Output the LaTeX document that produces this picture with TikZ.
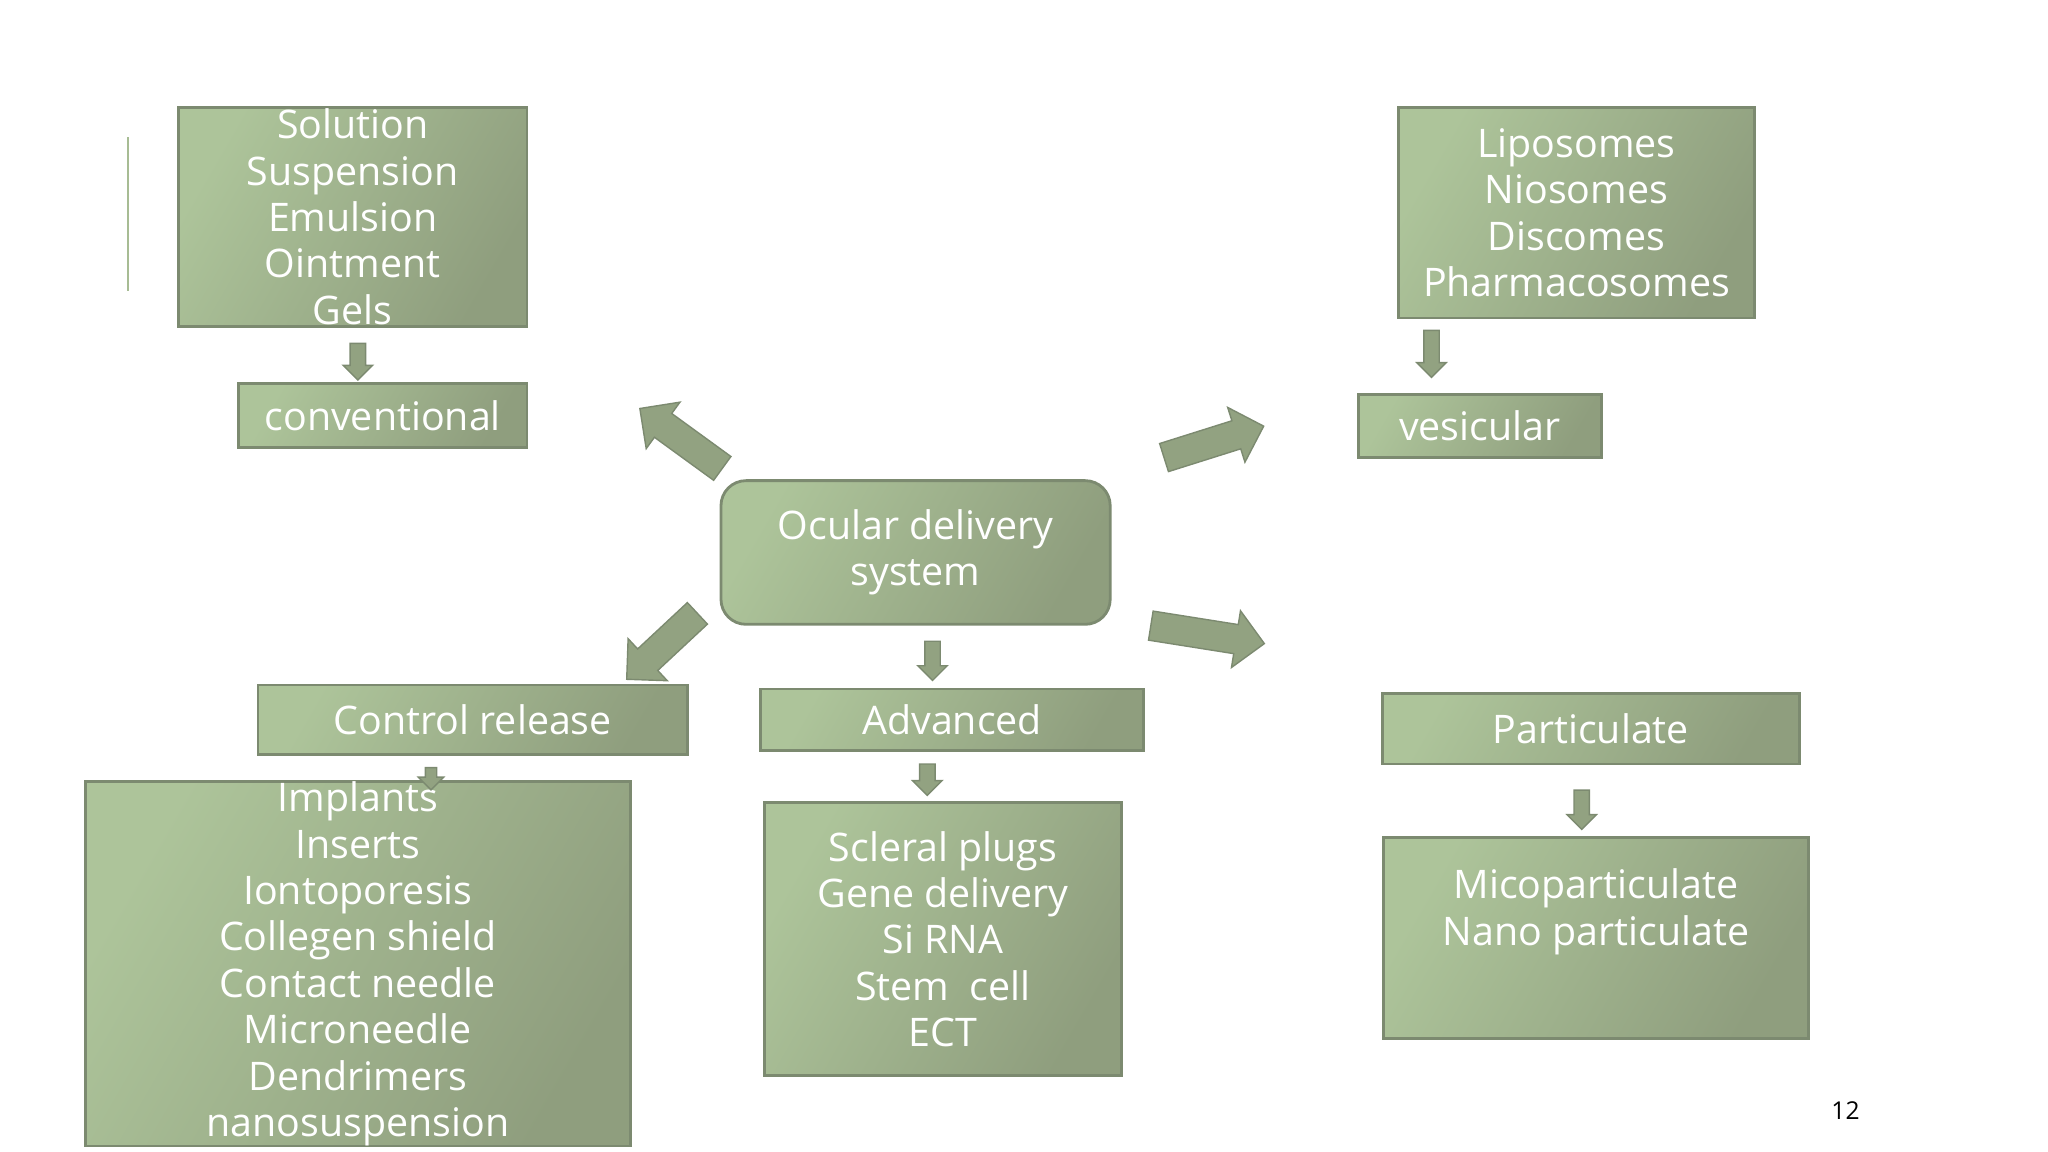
\documentclass[tikz,border=0pt]{standalone}
\usepackage{fontspec}
\setmainfont{Open Sans}
\usetikzlibrary{shapes.arrows}
\definecolor{boxlight}{HTML}{ADC49A}
\definecolor{boxdark}{HTML}{8F9E7E}
\definecolor{boxline}{HTML}{7C8A70}
\begin{document}
\begin{tikzpicture}[x=0.01306cm, y=-0.01306cm,
  every node/.style = {font=\fontsize{11.2}{13.2}\selectfont, text=white, align=center},
  box/.style = {draw=boxline, thick, left color=boxlight, right color=boxdark,
    shading angle=60, inner sep=0pt},
  bigarrow/.style = {single arrow, draw=boxline, fill=boxdark!90!boxlight,
    single arrow head extend=0.14cm, inner sep=0.14cm},
  smallarrow/.style = {single arrow, draw=boxline, fill=boxdark!90!boxlight,
    single arrow head extend=0.07cm, inner sep=0.07cm, rotate=-90}]
  \useasboundingbox (0,0) rectangle (1568,882);

  % boxes
  \node (forms)   [box, minimum width=267*0.01306cm, minimum height=168*0.01306cm] at (270,166) {Solution\\Suspension\\Emulsion\\Ointment\\Gels};
  \node (conv)    [box, minimum width=221*0.01306cm, minimum height=49*0.01306cm] at (293,318) {conventional};
  \node (vesic)   [box, minimum width=273*0.01306cm, minimum height=161*0.01306cm] at (1207,163) {Liposomes\\Niosomes\\Discomes\\Pharmacosomes};
  \node (vesicular) [box, minimum width=186*0.01306cm, minimum height=48*0.01306cm] at (1133,326) {vesicular};
  \node (ocular)  [box, rounded corners=0.25cm, minimum width=298*0.01306cm, minimum height=110*0.01306cm] at (701,423) {Ocular delivery\\system};
  \node (control) [box, minimum width=329*0.01306cm, minimum height=53*0.01306cm] at (362,551) {Control release};
  \node (adv)     [box, minimum width=293*0.01306cm, minimum height=47*0.01306cm] at (729,551) {Advanced};
  \node (part)    [box, minimum width=319*0.01306cm, minimum height=54*0.01306cm] at (1218,558) {Particulate};
  \node (implants) [box, minimum width=417*0.01306cm, minimum height=273*0.01306cm] at (274,738) {Implants\\Inserts\\Iontoporesis\\Collegen shield\\Contact needle\\Microneedle\\Dendrimers\\nanosuspension};
  \node (scleral) [box, minimum width=273*0.01306cm, minimum height=209*0.01306cm] at (722,719) {Scleral plugs\\Gene delivery\\Si RNA\\Stem~~cell\\ECT};
  \node (micro)   [box, minimum width=325*0.01306cm, minimum height=154*0.01306cm] at (1222,718) {};
  \node (microtext) at (1222,698) {Micoparticulate\\Nano particulate};

  % block arrows
  \node (aul) [bigarrow, rotate=144, minimum height=78*0.01306cm] at (526,339) {};
  \node (aur) [bigarrow, rotate=17.5, minimum height=80*0.01306cm] at (924,340) {};
  \node (all) [bigarrow, rotate=-137, minimum height=74*0.01306cm] at (511,491) {};
  \node (alr) [bigarrow, rotate=-9, minimum height=88*0.01306cm] at (919,485) {};
  \node (d1) [smallarrow, minimum height=28*0.01306cm] at (274,274) {};
  \node (d2) [smallarrow, minimum height=36*0.01306cm] at (1096,268) {};
  \node (d3) [smallarrow, minimum height=30*0.01306cm] at (714,503) {};
  \node (d4) [smallarrow, minimum height=17*0.01306cm, inner sep=0.05cm] at (330,594) {};
  \node (d5) [smallarrow, minimum height=24*0.01306cm] at (710,594) {};
  \node (d6) [smallarrow, minimum height=30*0.01306cm] at (1211,617) {};

  \draw[boxlight!80!boxdark, thick] (98,105) -- (98,223);
  \node (page) [text=black, font=\fontsize{7}{8}\selectfont] at (1413,850) {12};
\end{tikzpicture}
\end{document}
